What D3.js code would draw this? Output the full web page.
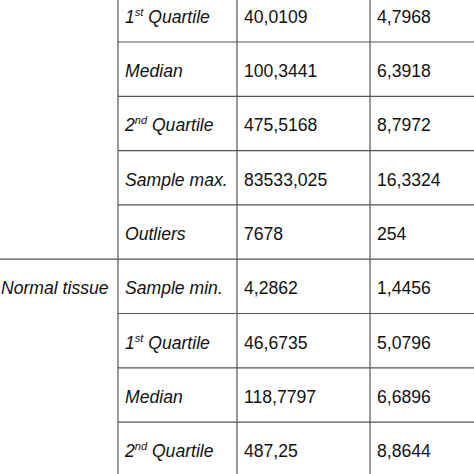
<!DOCTYPE html>
<html><head><meta charset="utf-8">
<script src="https://cdn.jsdelivr.net/npm/d3@7"></script>
<style>body{margin:0;background:#fff}</style>
</head><body>
<svg id="t" width="474" height="474"></svg>
<script>
// rows of the table (group, statistic, value A, value B)
const groups = ['', '', '', '', '', 'Normal tissue', '', '', ''];
const stats = [['1','st',' Quartile'], ['Median'], ['2','nd',' Quartile'], ['Sample max.'], ['Outliers'],
               ['Sample min.'], ['1','st',' Quartile'], ['Median'], ['2','nd',' Quartile']];
const colA = ['40,0109', '100,3441', '475,5168', '83533,025', '7678', '4,2862', '46,6735', '118,7797', '487,25'];
const colB = ['4,7968', '6,3918', '8,7972', '16,3324', '254', '1,4456', '5,0796', '6,6896', '8,8644'];

const svg = d3.select('#t');
const rowH = 54.3, top0 = 42 - rowH;
const y = i => top0 + i * rowH;
const colX = [0, 118, 237, 370, 474];
const line = '#555';

// vertical rules
svg.selectAll('line.v').data(colX.slice(1, 4)).enter().append('line')
   .attr('x1', d => d).attr('x2', d => d).attr('y1', 0).attr('y2', 474)
   .attr('stroke', line).attr('stroke-width', 1.2);

// horizontal rules
svg.selectAll('line.h').data(d3.range(1, 9)).enter().append('line')
   .attr('x1', i => i === 5 ? 0 : colX[1]).attr('x2', 474)
   .attr('y1', i => y(i)).attr('y2', i => y(i))
   .attr('stroke', line).attr('stroke-width', 1.2);

const font = 'Liberation Sans, Arial, sans-serif';
const txt = (x, i) => svg.append('text').attr('x', x).attr('y', y(i) + rowH / 2 + 8)
   .attr('font-family', font).attr('font-size', 17.6).attr('fill', '#111');

stats.forEach((s, i) => {
  const t = txt(125, i).attr('font-style', 'italic');
  t.append('tspan').text(s[0]);
  if (s.length > 1) {
    t.append('tspan').attr('dy', -7).attr('font-size', 11).text(s[1]);
    t.append('tspan').attr('dy', 7).text(s[2]);
  }
  txt(244, i).text(colA[i]);
  txt(377, i).text(colB[i]);
  if (groups[i]) txt(1, i).attr('font-style', 'italic').text(groups[i]);
});
</script>
</body></html>
